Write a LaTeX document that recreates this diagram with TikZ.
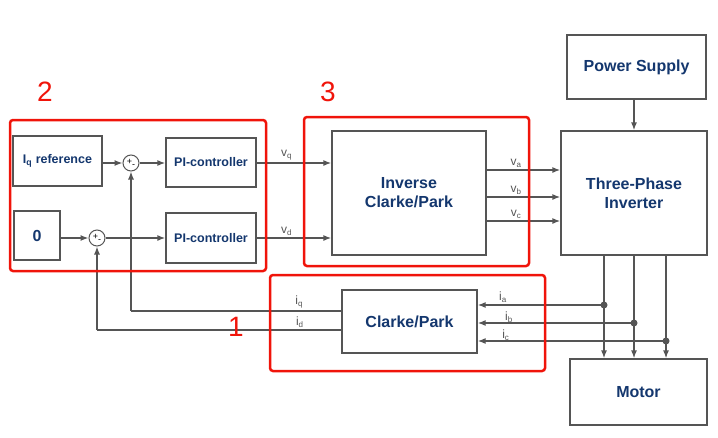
\documentclass[tikz,border=0pt]{standalone}
\usepackage{fontspec}
\setmainfont{Liberation Sans}
\usetikzlibrary{arrows.meta}
\definecolor{tb}{RGB}{20,55,110}
\definecolor{ln}{RGB}{85,85,85}
\definecolor{rd}{RGB}{240,20,10}
\begin{document}
\begin{tikzpicture}[x=1pt,y=-1pt,
  blk/.style={draw=ln,line width=1.3pt,fill=white,text=tb,font=\bfseries,align=center},
  big/.style={font=\fontsize{16}{19}\selectfont\bfseries},
  med/.style={font=\fontsize{12.5}{15}\selectfont\bfseries},
  ar/.style={draw=ln,line width=1.3pt,-{Latex[length=8pt,width=6pt]}},
  wr/.style={draw=ln,line width=1.3pt},
  sm/.style={draw=ln,line width=1pt,circle,minimum size=16pt,inner sep=0pt,font=\fontsize{9}{9}\selectfont},
  lab/.style={text=ln,font=\fontsize{12}{12}\selectfont,inner sep=2pt},
  red/.style={draw=rd,line width=2.5pt,rounded corners=3pt},
  num/.style={text=rd,font=\fontsize{28}{28}\selectfont}]
\useasboundingbox (0,0) rectangle (718,437);
\node[blk,med,minimum width=89pt,minimum height=50pt] (iq) at (57.5,161) {I\textsubscript{q} reference};
\node[blk,big,minimum width=46pt,minimum height=49pt] (z) at (37,235.5) {0};
\node[sm] (s1) at (131,163) {+\raisebox{-3pt}{-}};
\node[sm] (s2) at (97,238) {+\raisebox{-3pt}{-}};
\node[blk,med,minimum width=90pt,minimum height=49pt] (p1) at (211,162.5) {PI-controller};
\node[blk,med,minimum width=90pt,minimum height=50pt] (p2) at (211,238) {PI-controller};
\node[blk,big,minimum width=154pt,minimum height=124pt] (icp) at (409,193) {Inverse\\Clarke/Park};
\node[blk,big,minimum width=146pt,minimum height=124pt] (inv) at (634,193) {Three-Phase\\Inverter};
\node[blk,big,minimum width=139pt,minimum height=64pt] (ps) at (636.5,67) {Power Supply};
\node[blk,big,minimum width=135pt,minimum height=63pt] (cp) at (409.5,321.5) {Clarke/Park};
\node[blk,big,minimum width=137pt,minimum height=66pt] (m) at (638.5,392) {Motor};
% control
\draw[ar] (iq.east|-s1) -- (s1);
\draw[ar] (s1) -- (p1.west|-s1);
\draw[ar] (z.east|-s2) -- (s2);
\draw[ar] (s2) -- (p2.west|-s2);
\draw[ar] (p1.east|-0,163) -- node[lab,above,pos=0.4]{v\textsubscript{q}} (icp.west|-0,163);
\draw[ar] (p2.east|-0,238) -- node[lab,above,pos=0.4]{v\textsubscript{d}} (icp.west|-0,238);
\draw[ar] (icp.east|-0,170) -- node[lab,above,pos=0.4]{v\textsubscript{a}} (inv.west|-0,170);
\draw[ar] (icp.east|-0,197) -- node[lab,above,pos=0.4]{v\textsubscript{b}} (inv.west|-0,197);
\draw[ar] (icp.east|-0,221) -- node[lab,above,pos=0.4]{v\textsubscript{c}} (inv.west|-0,221);
\draw[ar] (ps.south-|634,0) -- (inv.north-|634,0);
% motor lines
\foreach \x/\y/\n in {604/305/a,634/323/b,666/341/c}{
  \draw[ar] (inv.south-|\x,0) -- (m.north-|\x,0);
  \coordinate (j\n) at (\x,\y);
  \fill[ln] (j\n) circle (3.5pt);
}
\draw[ar] (ja) -- node[lab,above,pos=0.8]{i\textsubscript{a}} (cp.east|-ja);
\draw[ar] (jb) -- node[lab,above,pos=0.8,inner sep=0pt]{i\textsubscript{b}} (cp.east|-jb);
\draw[ar] (jc) -- node[lab,above,pos=0.85,inner sep=0pt]{i\textsubscript{c}} (cp.east|-jc);
% feedback
\coordinate (fq) at (131,311);
\coordinate (fd) at (97,330);
\draw[wr] (cp.west|-fq) -- node[lab,above,pos=0.2]{i\textsubscript{q}} (fq);
\draw[ar] (fq) -- (s1);
\draw[wr] (cp.west|-fd) -- node[lab,above,pos=0.17]{i\textsubscript{d}} (fd);
\draw[ar] (fd) -- (s2);
% red annotations
\draw[red] (10,120) rectangle (266,271);
\draw[red] (304,117) rectangle (529,266);
\draw[red] (270,275) rectangle (545,371);
\node[num] (n2) at (45,92) {2};
\node[num] (n3) at (328,92) {3};
\node[num] (n1) at (236,327) {1};
\end{tikzpicture}
\end{document}
